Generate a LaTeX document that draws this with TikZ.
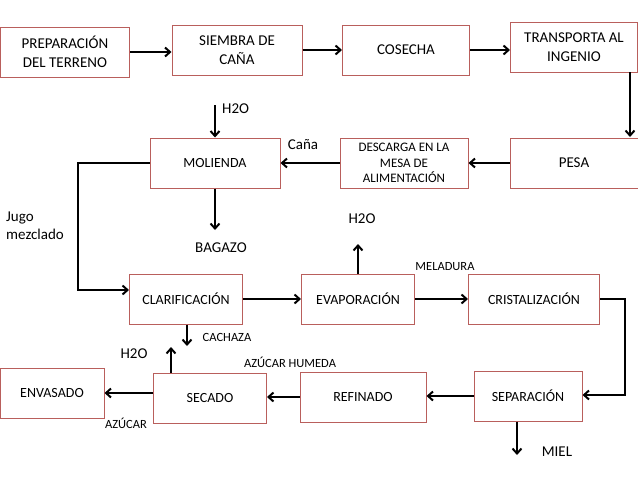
\documentclass[tikz,border=0pt]{standalone}
\usepackage{fontspec}
\setmainfont{Carlito}
\usetikzlibrary{arrows.meta}
\definecolor{bord}{RGB}{185,95,92}
\begin{document}
\begin{tikzpicture}[x=1pt,y=-1pt,
  box/.style={draw=bord,line width=1pt,fill=white,inner sep=0pt,align=center,font=\fontsize{15}{18.5}\selectfont},
  mid/.style={font=\fontsize{14}{16}\selectfont},
  arr/.style={line width=2pt,-{Straight Barb[length=5pt,width=9pt]}},
  lab/.style={font=\fontsize{15}{18}\selectfont,inner sep=0pt},
  sml/.style={font=\fontsize{12.5}{14}\selectfont,inner sep=0pt}]
\useasboundingbox (0,0) rectangle (638,479);
\node[box,minimum width=129,minimum height=50] (prep) at (65,52) {PREPARACIÓN\\DEL TERRENO};
\node[box,minimum width=130,minimum height=50] (siem) at (237,50) {SIEMBRA DE\\CAÑA};
\node[box,minimum width=127,minimum height=50] (cose) at (406,50) {COSECHA};
\node[box,minimum width=127,minimum height=50] (tran) at (574,47) {TRANSPORTA AL\\INGENIO};
\node[box,mid,minimum width=130,minimum height=50] (mol) at (215,163) {MOLIENDA};
\node[box,minimum width=128,minimum height=50,font=\fontsize{13}{15.5}\selectfont] (desc) at (404,163) {DESCARGA EN LA\\MESA DE\\ALIMENTACIÓN};
\node[box,minimum width=128,minimum height=50] (pesa) at (574,163) {PESA};
\node[box,mid,minimum width=113,minimum height=50] (clar) at (186,299) {CLARIFICACIÓN};
\node[box,mid,minimum width=113,minimum height=50] (evap) at (358,299) {EVAPORACIÓN};
\node[box,mid,minimum width=131,minimum height=50] (cris) at (534,299) {CRISTALIZACIÓN};
\node[box,mid,minimum width=104,minimum height=50] (env) at (52,393) {ENVASADO};
\node[box,mid,minimum width=113,minimum height=50] (sec) at (210,398) {SECADO};
\node[box,mid,minimum width=126,minimum height=50] (ref) at (363,397) {REFINADO};
\node[box,mid,minimum width=108,minimum height=50] (sep) at (528,396) {SEPARACIÓN};
\draw[arr] (prep.east) -- (siem.west |- prep.east);
\draw[arr] (siem.east) -- (cose.west |- siem.east);
\draw[arr] (cose.east) -- (tran.west |- cose.east);
\coordinate (t1) at (630,72);
\coordinate (t2) at (630,137);
\draw[arr] (t1) -- (t2);
\draw[arr] (pesa.west) -- (desc.east);
\draw[arr] (desc.west) -- (mol.east);
\coordinate (h1) at (215,105);
\draw[arr] (h1) -- (mol.north);
\node[lab,anchor=west] (h2o1) at (222,109) {H2O};
\node[lab] (cana) at (303,145) {Caña};
\coordinate (b1) at (215,230);
\draw[arr] (mol.south) -- (b1);
\node[lab] (bag) at (221,248) {BAGAZO};
\coordinate (j1) at (78,163);
\coordinate (j2) at (78,290);
\draw[arr] (mol.west) -- (j1) -- (j2) -- (clar.west |- j2);
\node[lab,align=left,anchor=west] (jugo) at (6,226) {Jugo\\mezclado};
\draw[arr] (clar.east) -- (evap.west);
\coordinate (e1) at (358,244);
\draw[arr] (evap.north -| e1) -- (e1);
\node[lab] (h2o2) at (362,219) {H2O};
\draw[arr] (evap.east) -- (cris.west);
\node[sml] (mel) at (445,267) {MELADURA};
\coordinate (c1) at (625,299);
\coordinate (c2) at (625,395);
\draw[arr] (cris.east) -- (c1) -- (c2) -- (sep.east |- c2);
\coordinate (m1) at (517,455);
\draw[arr] (sep.south -| m1) -- (m1);
\node[lab] (miel) at (557,452) {MIEL};
\draw[arr] (sep.west) -- (ref.east |- sep.west);
\draw[arr] (ref.west) -- (sec.east |- ref.west);
\node[sml] (ah) at (290,362) {AZÚCAR HUMEDA};
\coordinate (cc1) at (187,346);
\draw[arr] (clar.south -| cc1) -- (cc1);
\node[sml] (cach) at (227,337) {CACHAZA};
\coordinate (w1) at (171,347);
\draw[arr] (sec.north -| w1) -- (w1);
\node[lab] (h2o3) at (134,354) {H2O};
\draw[arr] (sec.west |- env.east) -- (env.east);
\node[sml] (az) at (126,423) {AZÚCAR};
\end{tikzpicture}
\end{document}
